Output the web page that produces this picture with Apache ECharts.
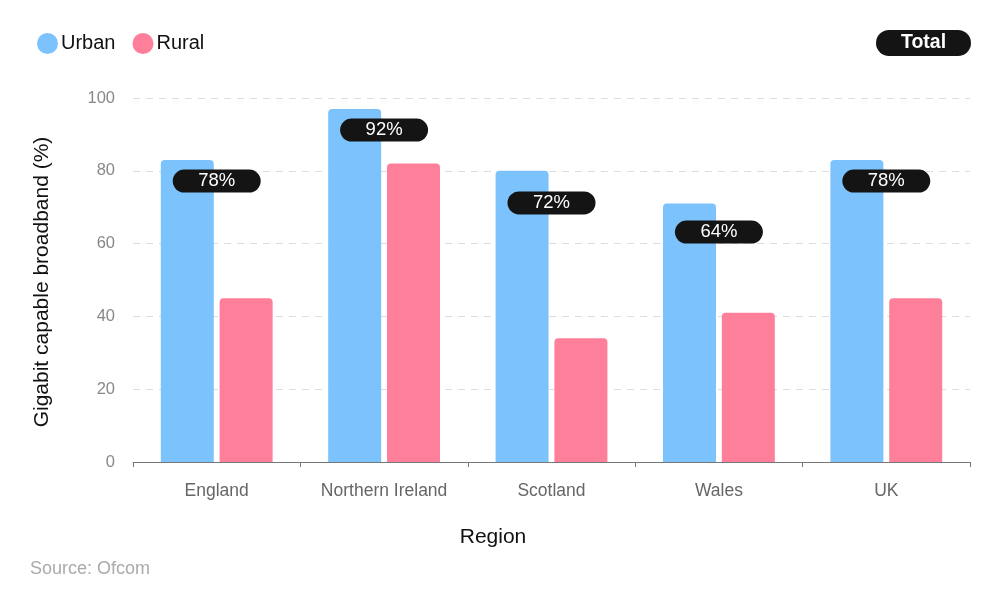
<!DOCTYPE html>
<html>
<head>
<meta charset="utf-8">
<script src="https://cdn.jsdelivr.net/npm/echarts@6/dist/echarts.min.js"></script>
<style>html,body{margin:0;padding:0;background:#fff}#c{width:1000px;height:600px}</style>
</head>
<body>
<div id="c"></div>
<script>
var categories = ['England', 'Northern Ireland', 'Scotland', 'Wales', 'UK'];
var urban = [83, 97, 80, 71, 83];
var rural = [45, 82, 34, 41, 45];
var total = [78, 92, 72, 64, 78];
var yTicks = [0, 20, 40, 60, 80, 100];

var FONT = '"Liberation Sans", Arial, Helvetica, sans-serif';
var chart = echarts.init(document.getElementById('c'));
chart.setOption({
  animation: false,
  textStyle: { fontFamily: FONT },
  grid: { left: 133, right: 30, top: 98, bottom: 138, containLabel: false },
  legend: {
    data: ['Urban', 'Rural'],
    left: 32, top: 28,
    icon: 'circle', itemWidth: 21, itemHeight: 21, itemGap: 17,
    textStyle: { fontSize: 20, color: '#111', fontFamily: FONT, padding: [0, 0, 0, -2] }
  },
  xAxis: {
    type: 'category',
    data: categories,
    axisLine: { lineStyle: { color: '#777' } },
    axisTick: { show: true, alignWithLabel: false, length: 5, lineStyle: { color: '#777' } },
    axisLabel: { color: '#666', fontSize: 17.5, margin: 20, fontFamily: FONT }
  },
  yAxis: {
    type: 'value', min: yTicks[0], max: yTicks[yTicks.length - 1], interval: 20,
    axisLine: { show: false }, axisTick: { show: false },
    axisLabel: { color: '#888', fontSize: 16.5, margin: 18, fontFamily: FONT },
    splitLine: { lineStyle: { color: '#ddd', type: [7, 6] } }
  },
  series: [
    {
      name: 'Urban', type: 'bar', data: urban, barWidth: 53, barGap: '11%',
      itemStyle: { color: '#7cc3fd', borderRadius: [4, 4, 0, 0] }
    },
    {
      name: 'Rural', type: 'bar', data: rural, barWidth: 53, barGap: '11%',
      itemStyle: { color: '#fe7f99', borderRadius: [4, 4, 0, 0] }
    },
    {
      name: 'Total', type: 'scatter', data: total, symbolSize: 0, z: 10,
      itemStyle: { color: '#141414', opacity: 1 },
      emphasis: { disabled: true },
      label: {
        show: true, position: 'inside', formatter: '{c}%', offset: [0, 3],
        color: '#fff', fontSize: 18.5, fontFamily: FONT, opacity: 1,
        backgroundColor: '#141414', borderRadius: 12,
        width: 88, height: 23, lineHeight: 23, align: 'center', padding: 0
      }
    }
  ],
  graphic: [
    {
      type: 'text', x: 42, y: 282, rotation: Math.PI / 2,
      style: { text: 'Gigabit capable broadband (%)', fontSize: 21, fill: '#111', fontFamily: FONT, align: 'center', verticalAlign: 'middle' }
    },
    {
      type: 'text', x: 493, y: 537,
      style: { text: 'Region', fontSize: 21, fill: '#111', fontFamily: FONT, align: 'center', verticalAlign: 'middle' }
    },
    {
      type: 'text', x: 30, y: 569,
      style: { text: 'Source: Ofcom', fontSize: 18, fill: '#aaa', fontFamily: FONT, align: 'left', verticalAlign: 'middle' }
    },
    {
      type: 'group', x: 876, y: 30,
      children: [
        { type: 'rect', shape: { x: 0, y: 0, width: 95, height: 26, r: 13 }, style: { fill: '#141414' } },
        { type: 'text', x: 47.5, y: 13, style: { text: 'Total', fontSize: 19.5, fontWeight: 'bold', fill: '#fff', fontFamily: FONT, align: 'center', verticalAlign: 'middle' } }
      ]
    }
  ]
});
</script>
</body>
</html>
